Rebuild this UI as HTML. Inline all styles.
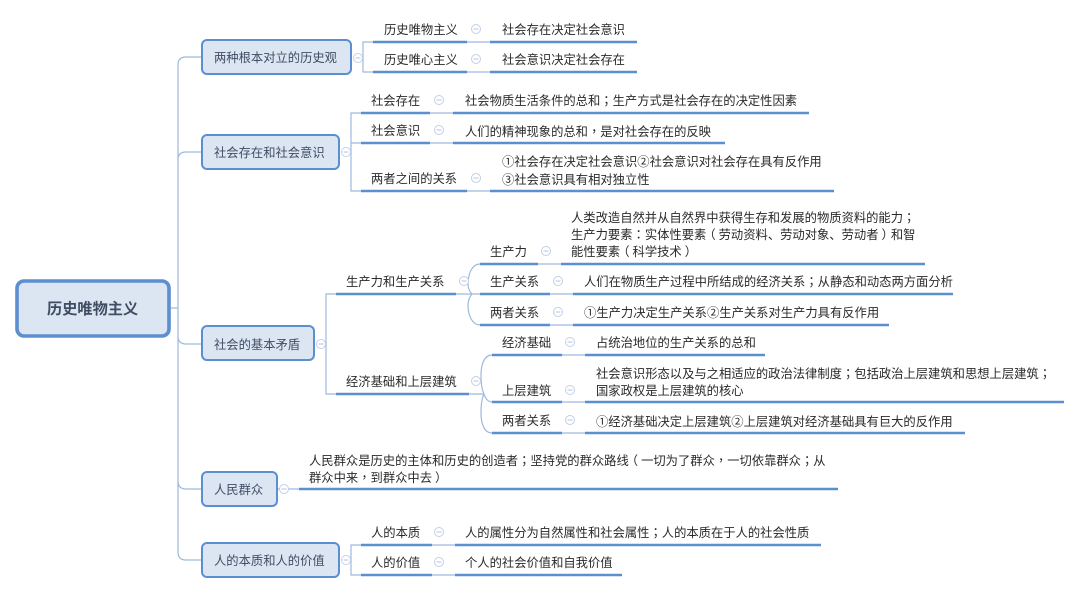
<!DOCTYPE html>
<html><head><meta charset="utf-8"><style>
html,body{margin:0;padding:0;background:#fff;width:1080px;height:593px;overflow:hidden}
svg{display:block;filter:blur(0.3px)}
text{font-family:"Liberation Sans","Noto Sans CJK SC",sans-serif;font-size:12.3px;fill:#2a2a2a}
.p{font-family:"Noto Sans CJK TC",sans-serif}
.b{fill:#3f4d63}
.u{stroke:#5b8fd0;stroke-width:2.4;fill:none}
.c{stroke:#9db9de;stroke-width:1.2;fill:none}
.n{fill:#dce6f3;stroke:#5b8fd0;stroke-width:2}
.o{fill:#fff;stroke:#c3cfe8;stroke-width:1}
.m{stroke:#b5c4e2;stroke-width:1}
</style></head><body>
<svg width="1080" height="593" viewBox="0 0 1080 593" xmlns="http://www.w3.org/2000/svg">
<!-- trunk -->
<path class="c" d="M202 57H186Q178 57 178 65V552Q178 560 186 560H202M178 160Q178 152 186 152H202M178 336Q178 344 186 344H202M178 481Q178 489 186 489H202M169 308H178"/>
<!-- brackets -->
<path class="c" d="M373 42H363V72H373M361 113H351V191H361M351 143H361M336 294H326V394H336M361 545H351V575H361M351 152H345M363 57H357M326 344H320M351 560H345M277 489H299"/>
<path class="c" d="M456 294H480M480 264C472 264 468 274 468 284Q468 290 472 294M480 325C472 325 468 315 468 305Q468 299 472 294M469 394H484M492 355C484 355 481 365 481 375Q481 388 484 394M492 433C484 433 481 423 481 413Q481 400 484 394M492 402C488 402 485 398 484 394"/>
<path class="c" d="M467 42H490M467 72H490M430 113H453M430 143H453M467 191H490M538 264H561M550 294H573M550 325H573M562 355H585M562 402H585M562 433H585M432 545H455M432 575H455"/>
<!-- underlines -->
<path class="u" d="M373 42H467M490 42H637M373 72H467M490 72H637M361 113H430M453 113H809M361 143H430M453 143H725M361 191H467M490 191H834M336 294H456M336 394H469M480 264H538M561 264H925M480 294H550M573 294H953M480 325H550M573 325H889M492 355H562M585 355H765M492 402H562M585 402H1064M492 433H562M585 433H965M299 489H838M361 545H432M455 545H821M361 575H432M455 575H622"/>
<!-- nodes -->
<rect x="17" y="281" width="152" height="55" rx="7" fill="#dce6f3" stroke="#5b8fd0" stroke-width="3.6"/>
<rect class="n" x="202" y="40" width="149" height="34" rx="5"/>
<rect class="n" x="202" y="135" width="137" height="34" rx="5"/>
<rect class="n" x="202" y="326" width="112" height="34" rx="5"/>
<rect class="n" x="202" y="472" width="75" height="34" rx="5"/>
<rect class="n" x="202" y="543" width="137" height="34" rx="5"/>
<!-- collapse marks -->
<g>
<circle class="o" cx="358" cy="58" r="4.5"/><path class="m" d="M355.500 58h5"/>
<circle class="o" cx="346" cy="152" r="4.500"/><path class="m" d="M343.500 152h5"/>
<circle class="o" cx="321" cy="344" r="4.500"/><path class="m" d="M318.500 344h5"/>
<circle class="o" cx="284" cy="489" r="4.500"/><path class="m" d="M281.500 489h5"/>
<circle class="o" cx="346" cy="560" r="4.500"/><path class="m" d="M343.500 560h5"/>
<circle class="o" cx="476" cy="29" r="4.500"/><path class="m" d="M473.500 29h5"/>
<circle class="o" cx="476" cy="59" r="4.500"/><path class="m" d="M473.500 59h5"/>
<circle class="o" cx="439" cy="100" r="4.500"/><path class="m" d="M436.500 100h5"/>
<circle class="o" cx="439" cy="130" r="4.500"/><path class="m" d="M436.500 130h5"/>
<circle class="o" cx="476" cy="178" r="4.500"/><path class="m" d="M473.500 178h5"/>
<circle class="o" cx="464" cy="281" r="4.500"/><path class="m" d="M461.500 281h5"/>
<circle class="o" cx="476" cy="381" r="4.500"/><path class="m" d="M473.500 381h5"/>
<circle class="o" cx="546" cy="251" r="4.500"/><path class="m" d="M543.500 251h5"/>
<circle class="o" cx="558" cy="281" r="4.500"/><path class="m" d="M555.500 281h5"/>
<circle class="o" cx="558" cy="312" r="4.500"/><path class="m" d="M555.500 312h5"/>
<circle class="o" cx="570" cy="342" r="4.500"/><path class="m" d="M567.500 342h5"/>
<circle class="o" cx="570" cy="390" r="4.500"/><path class="m" d="M567.500 390h5"/>
<circle class="o" cx="570" cy="420" r="4.500"/><path class="m" d="M567.500 420h5"/>
<circle class="o" cx="439" cy="532" r="4.500"/><path class="m" d="M436.500 532h5"/>
<circle class="o" cx="439" cy="562" r="4.500"/><path class="m" d="M436.500 562h5"/>
</g>
<!-- node text -->
<text class="b" x="47" y="314" style="font-size:15.2px;font-weight:bold">历史唯物主义</text>
<text class="b" x="214" y="62">两种根本对立的历史观</text>
<text class="b" x="214" y="157">社会存在和社会意识</text>
<text class="b" x="214" y="349">社会的基本矛盾</text>
<text class="b" x="214" y="494">人民群众</text>
<text class="b" x="214" y="565">人的本质和人的价值</text>
<!-- branch 1 -->
<text x="384" y="34">历史唯物主义</text>
<text x="502" y="34">社会存在决定社会意识</text>
<text x="384" y="64">历史唯心主义</text>
<text x="502" y="64">社会意识决定社会存在</text>
<!-- branch 2 -->
<text x="371" y="105">社会存在</text>
<text x="465" y="105">社会物质生活条件的总和<tspan class="p">；</tspan>生产方式是社会存在的决定性因素</text>
<text x="371" y="135">社会意识</text>
<text x="465" y="136">人们的精神现象的总和<tspan class="p">，</tspan>是对社会存在的反映</text>
<text x="371" y="183">两者之间的关系</text>
<text x="502" y="166">①社会存在决定社会意识②社会意识对社会存在具有反作用</text>
<text x="502" y="184">③社会意识具有相对独立性</text>
<!-- branch 3 -->
<text x="346" y="286">生产力和生产关系</text>
<text x="346" y="386">经济基础和上层建筑</text>
<text x="490" y="256">生产力</text>
<text x="571" y="222">人类改造自然并从自然界中获得生存和发展的物质资料的能力<tspan class="p">；</tspan></text>
<text x="571" y="239">生产力要素<tspan class="p">：</tspan>实体性要素<tspan dx="-3">（</tspan><tspan dx="3">劳动资料、劳动对象、劳动者</tspan><tspan dx="3">）</tspan><tspan dx="-3">和智</tspan></text>
<text x="571" y="256">能性要素<tspan dx="-3">（</tspan><tspan dx="3">科学技术</tspan><tspan dx="3">）</tspan></text>
<text x="490" y="286">生产关系</text>
<text x="584" y="286">人们在物质生产过程中所结成的经济关系<tspan class="p">；</tspan>从静态和动态两方面分析</text>
<text x="490" y="317">两者关系</text>
<text x="584" y="317">①生产力决定生产关系②生产关系对生产力具有反作用</text>
<text x="502" y="347">经济基础</text>
<text x="596" y="347">占统治地位的生产关系的总和</text>
<text x="502" y="395">上层建筑</text>
<text x="596" y="378">社会意识形态以及与之相适应的政治法律制度<tspan class="p">；</tspan>包括政治上层建筑和思想上层建筑<tspan class="p">；</tspan></text>
<text x="596" y="395">国家政权是上层建筑的核心</text>
<text x="502" y="425">两者关系</text>
<text x="596" y="426">①经济基础决定上层建筑②上层建筑对经济基础具有巨大的反作用</text>
<!-- branch 4 -->
<text x="309" y="465">人民群众是历史的主体和历史的创造者<tspan class="p">；</tspan>坚持党的群众路线<tspan dx="-3">（</tspan><tspan dx="3">一切为了群众</tspan><tspan class="p">，</tspan>一切依靠群众<tspan class="p">；</tspan>从</text>
<text x="309" y="482">群众中来<tspan class="p">，</tspan>到群众中去<tspan dx="3">）</tspan></text>
<!-- branch 5 -->
<text x="371" y="537">人的本质</text>
<text x="465" y="537">人的属性分为自然属性和社会属性<tspan class="p">；</tspan>人的本质在于人的社会性质</text>
<text x="371" y="567">人的价值</text>
<text x="465" y="567">个人的社会价值和自我价值</text>
</svg>
</body></html>
